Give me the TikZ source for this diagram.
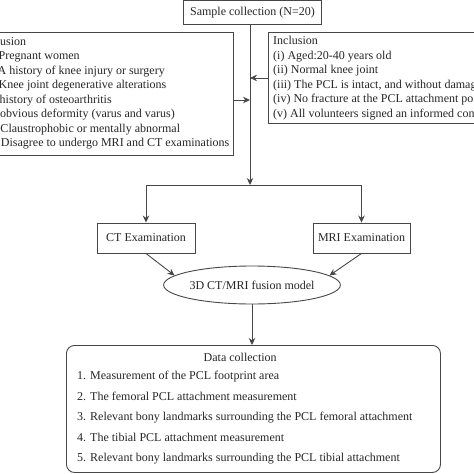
\documentclass[tikz,border=0pt]{standalone}
\usepackage{fontspec}
\setmainfont{Liberation Serif}
\usetikzlibrary{arrows.meta,shapes.geometric}
\definecolor{ln}{HTML}{474747}
\definecolor{tx}{HTML}{262626}
\tikzset{
  box/.style={draw=ln, line width=0.9pt, inner sep=0pt},
  txt/.style={text=tx, inner sep=0pt, font=\fontsize{12}{14.5}\selectfont},
  arr/.style={draw=ln, line width=0.9pt, -{Stealth[length=7pt,width=6.5pt]}},
  ln/.style={draw=ln, line width=0.9pt}
}
\begin{document}
\begin{tikzpicture}[x=1pt,y=-1pt]
\useasboundingbox (0,0) rectangle (474,474);
\clip (0,0) rectangle (474,474);
% sample collection
\node[box, txt, minimum width=138.5, minimum height=24] (sample) at (252.5,12.5) {Sample collection (N=20)};
\coordinate (spine) at (250,185);
% exclusion box
\node[box, minimum width=238, minimum height=123, anchor=north west] (excl) at (-5.3,32) {};
\node[txt, align=left, anchor=west] (excltext) at (0,93.5) {usion\\
\hspace*{-1.5pt}Pregnant women\\
\hspace*{-2.5pt}A history of knee injury or surgery\\
\hspace*{-1.5pt}Knee joint degenerative alterations\\
\hspace*{-0.5pt}history of osteoarthritis\\
obvious deformity (varus and varus)\\
\hspace*{0.3pt}Claustrophobic or mentally abnormal\\
\hspace*{0.8pt}Disagree to undergo MRI and CT examinations};
% inclusion box
\node[box, minimum width=205.5, minimum height=91, anchor=north west] (incl) at (268,32) {};
\node[txt, align=left, anchor=west] (incltext) at (273,78) {Inclusion\\
(i) Aged:20-40 years old\\
(ii) Normal knee joint\\
(iii) The PCL is intact, and without damag\\
(iv) No fracture at the PCL attachment po\\
(v) All volunteers signed an informed con};
% exams
\node[box, txt, minimum width=98, minimum height=30] (ct) at (146,238) {CT Examination};
\node[box, txt, minimum width=97, minimum height=30] (mri) at (361.5,238) {MRI Examination};
\node[box, txt, ellipse, minimum width=136, minimum height=38] (fus) at (252,285) {3D CT/MRI fusion model};
% data collection
\node[box, rounded corners=8pt, minimum width=374, minimum height=127, anchor=north west] (data) at (66,345) {};
\node[txt, align=left, anchor=north west, font=\fontsize{12}{20.5}\selectfont] (datatext) at (77,353) {\makebox[336pt][c]{\hspace*{-10pt}Data collection}\\[-2.5pt]
1. Measurement of the PCL footprint area\\
2. The femoral PCL attachment measurement\\
3. Relevant bony landmarks surrounding the PCL femoral attachment\\
4. The tibial PCL attachment measurement\\
5. Relevant bony landmarks surrounding the PCL tibial attachment};
% connectors
\draw[arr] (sample.south -| spine) -- (spine);
\draw[arr] (excl.east |- 0,100) -- (spine |- 0,100);
\draw[arr] (incl.west) -- (incl.west -| spine);
\draw[arr] (spine) -| (ct.north);
\draw[arr] (spine) -| (mri.north);
\draw[arr] (ct.south) -- (fus.173);
\draw[arr] (mri.south) -- (fus.7);
\draw[arr] (fus.south) -- (fus.south |- data.north);
\end{tikzpicture}
\end{document}
